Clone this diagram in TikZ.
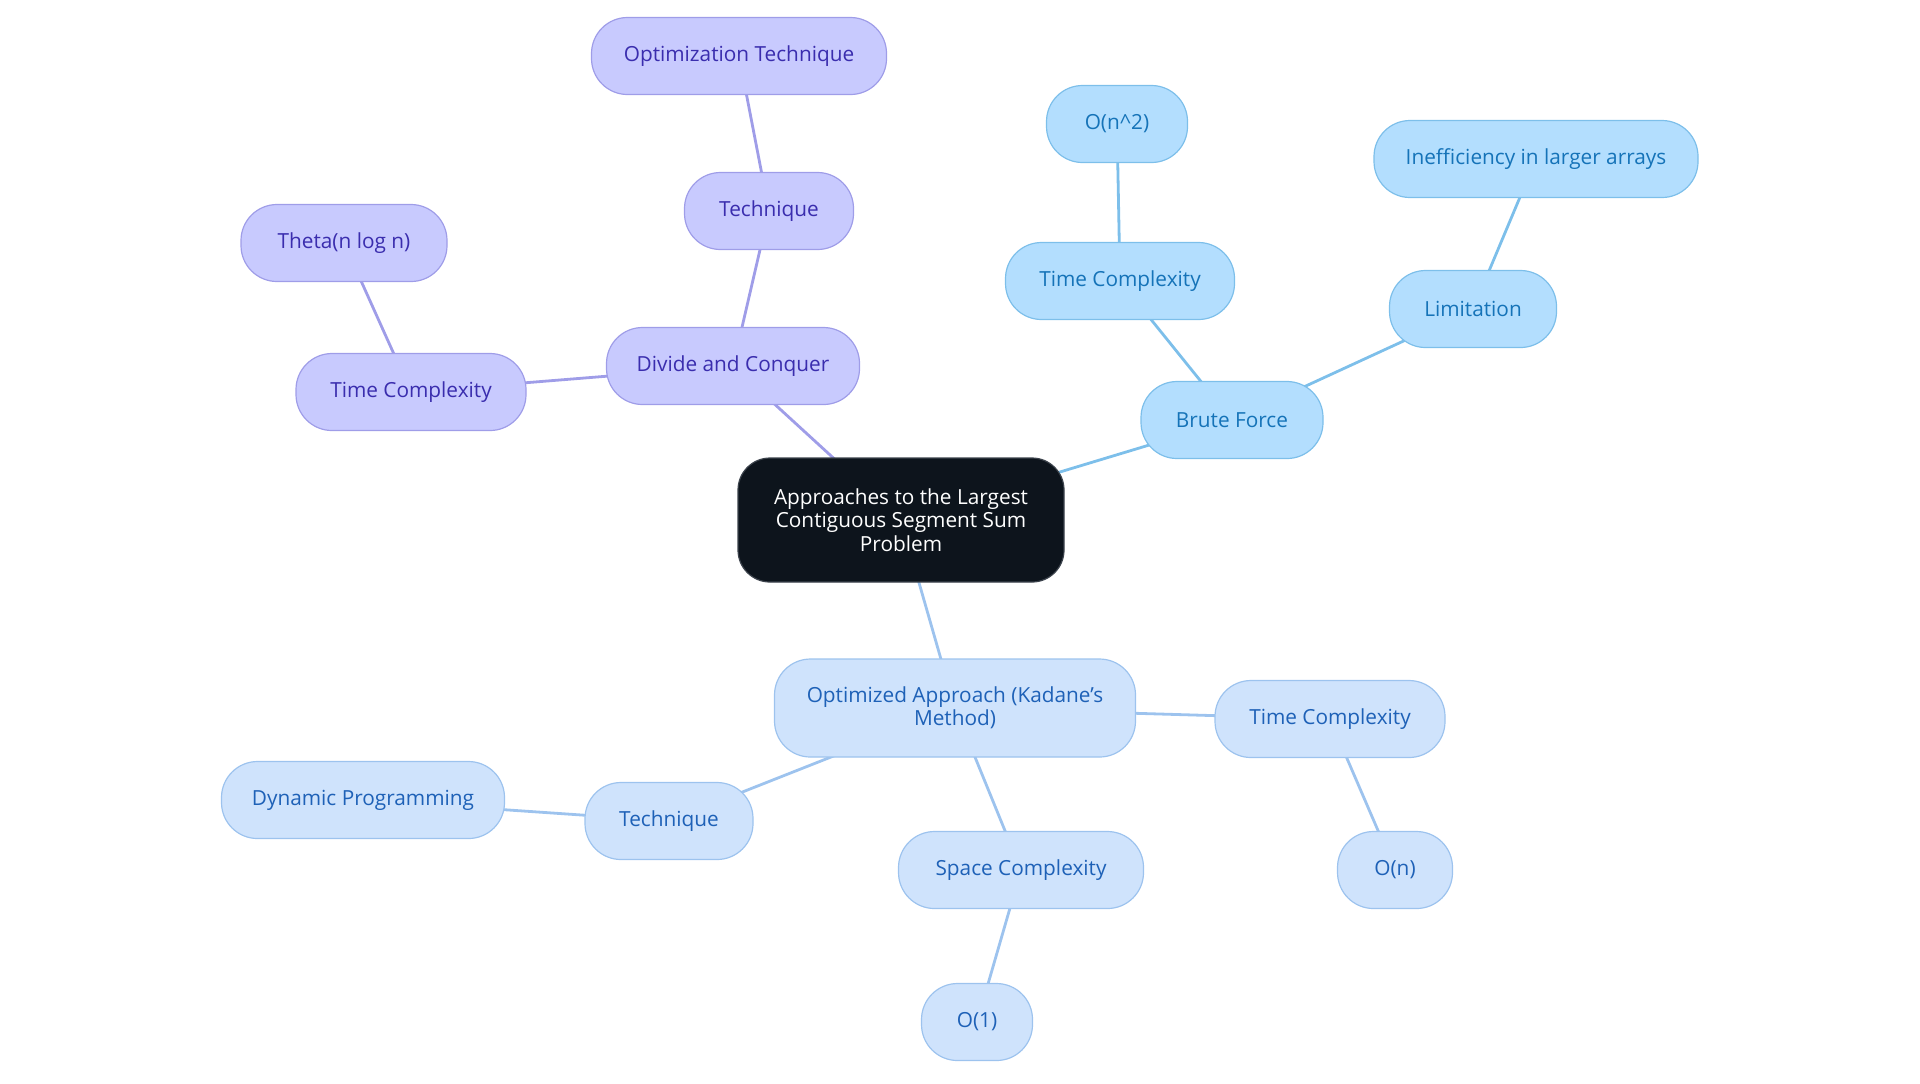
\documentclass[tikz,border=0pt]{standalone}
\usepackage{fontspec}
\setmainfont{Open Sans}
\usepackage{tikz}
\usetikzlibrary{backgrounds}
\definecolor{rootfill}{HTML}{0D141C}
\definecolor{rootline}{HTML}{3C434C}
\definecolor{dacfill}{HTML}{C8CAFE}
\definecolor{dacline}{HTML}{9F9DE8}
\definecolor{dactext}{HTML}{3A2DAE}
\definecolor{brutefill}{HTML}{B3DEFE}
\definecolor{bruteline}{HTML}{7DBFEA}
\definecolor{brutetext}{HTML}{1573B8}
\definecolor{kadfill}{HTML}{CFE3FC}
\definecolor{kadline}{HTML}{9DC3EE}
\definecolor{kadtext}{HTML}{1E61B7}
\begin{document}
\begin{tikzpicture}[x=0.5pt, y=-0.5pt, font=\fontsize{10.4}{11.6}\selectfont,
  box/.style={draw, line width=0.6pt, rounded corners=18pt, align=center, minimum height=38.5pt},
  rootbox/.style={box, fill=rootfill, draw=rootline, text=white, rounded corners=16pt},
  dacbox/.style={box, fill=dacfill, draw=dacline, text=dactext},
  brutebox/.style={box, fill=brutefill, draw=bruteline, text=brutetext},
  kadbox/.style={box, fill=kadfill, draw=kadline, text=kadtext},
  dacedge/.style={draw=dacline, line width=1.4pt},
  bruteedge/.style={draw=bruteline, line width=1.4pt},
  kadedge/.style={draw=kadline, line width=1.4pt}]
\useasboundingbox (0,0) rectangle (1920,1083);
\node[rootbox, minimum width=163pt, minimum height=62pt] (root) at (901,520) {Approaches to the Largest\\Contiguous Segment Sum\\Problem};
\node[dacbox, minimum width=126.5pt] (dac) at (733,366) {Divide and Conquer};
\node[dacbox, minimum width=84.5pt] (dactech) at (769,211) {Technique};
\node[dacbox, minimum width=147.5pt] (opttech) at (739,56) {Optimization Technique};
\node[dacbox, minimum width=115pt] (dactime) at (411,392) {Time Complexity};
\node[dacbox, minimum width=103pt] (theta) at (344,243) {Theta(n log n)};
\node[brutebox, minimum width=91pt] (brute) at (1232,420) {Brute Force};
\node[brutebox, minimum width=114.5pt] (brutetime) at (1120,281) {Time Complexity};
\node[brutebox, minimum width=70.5pt] (on2) at (1117,124) {O(n\^{}2)};
\node[brutebox, minimum width=83.5pt] (limit) at (1473,309) {Limitation};
\node[brutebox, minimum width=162pt] (ineff) at (1536,159) {Inefficiency in larger arrays};
\node[kadbox, minimum width=180.5pt, minimum height=49pt] (kad) at (955,708) {Optimized Approach (Kadane's\\Method)};
\node[kadbox, minimum width=115pt] (kadtime) at (1330,719) {Time Complexity};
\node[kadbox, minimum width=57.5pt] (on) at (1395,870) {O(n)};
\node[kadbox, minimum width=84pt] (kadtech) at (669,821) {Technique};
\node[kadbox, minimum width=141.5pt] (dp) at (363,800) {Dynamic Programming};
\node[kadbox, minimum width=122.5pt] (space) at (1021,870) {Space Complexity};
\node[kadbox, minimum width=55.5pt] (o1) at (977,1022) {O(1)};
\begin{scope}[on background layer]
\draw[dacedge] (root.center) -- (dac.center);
\draw[bruteedge] (root.center) -- (brute.center);
\draw[kadedge] (root.center) -- (kad.center);
\draw[dacedge] (dac.center) -- (dactech.center);
\draw[dacedge] (dactech.center) -- (opttech.center);
\draw[dacedge] (dac.center) -- (dactime.center);
\draw[dacedge] (dactime.center) -- (theta.center);
\draw[bruteedge] (brute.center) -- (brutetime.center);
\draw[bruteedge] (brutetime.center) -- (on2.center);
\draw[bruteedge] (brute.center) -- (limit.center);
\draw[bruteedge] (limit.center) -- (ineff.center);
\draw[kadedge] (kad.center) -- (kadtime.center);
\draw[kadedge] (kadtime.center) -- (on.center);
\draw[kadedge] (kad.center) -- (kadtech.center);
\draw[kadedge] (kadtech.center) -- (dp.center);
\draw[kadedge] (kad.center) -- (space.center);
\draw[kadedge] (space.center) -- (o1.center);
\end{scope}
\end{tikzpicture}
\end{document}
